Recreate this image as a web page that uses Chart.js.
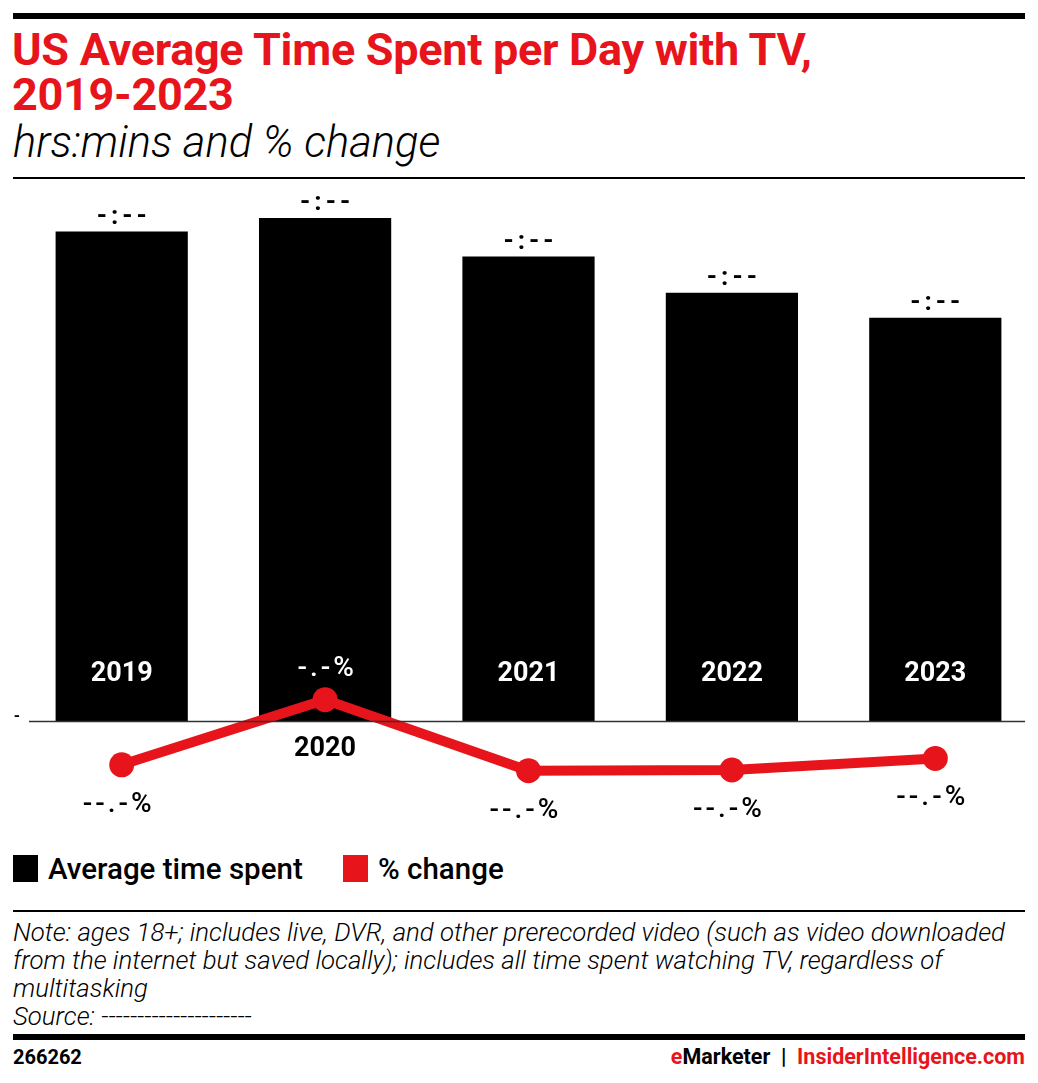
<!DOCTYPE html>
<html>
<head>
<meta charset="utf-8">
<script src="https://cdn.jsdelivr.net/npm/chart.js@4"></script>
<style>
  html, body { margin: 0; padding: 0; background: #fff; overflow: hidden; }
  body { width: 1038px; height: 1083px; position: relative; font-family: Roboto, 'Noto Sans', sans-serif; color: #000; }
  .abs { position: absolute; white-space: nowrap; }
  .rule { position: absolute; left: 13px; width: 1012px; background: #000; }
  #title { left: 12px; top: 27px; font-size: 45px; font-weight: 700; color: #e8141c; line-height: 45px; letter-spacing: -0.3px; }
  #subtitle { left: 13px; top: 119px; font-size: 43.5px; font-style: italic; font-weight: 300; line-height: 48px; }
  #chartWrap { position: absolute; left: 0; top: 180px; width: 1038px; height: 660px; }
  .legend { top: 851px; font-size: 29.5px; font-weight: 500; line-height: 36px; }
  .swatch { position: absolute; top: 855px; width: 25px; height: 27px; }
  #note { left: 13px; top: 918px; font-size: 25.8px; font-style: italic; font-weight: 300; line-height: 28px; }
  #foot-id { left: 13px; top: 1045px; font-size: 20px; font-weight: 700; }
  #foot-brand { right: 13px; top: 1044px; font-size: 21.5px; font-weight: 700; }
  .red { color: #e8141c; }
</style>
</head>
<body>
<div class="rule" style="top:13px;height:6px"></div>
<div id="title" class="abs">US Average Time Spent per Day with TV,<br>2019-2023</div>
<div id="subtitle" class="abs">hrs:mins and % change</div>
<div class="rule" style="top:177px;height:2px"></div>

<div id="chartWrap"><canvas id="chart" width="1038" height="660"></canvas></div>

<div class="swatch" style="left:13px;background:#000"></div>
<div class="abs legend" style="left:48px">Average time spent</div>
<div class="swatch" style="left:343px;background:#e8141c"></div>
<div class="abs legend" style="left:378px">% change</div>

<div class="rule" style="top:910px;height:2px"></div>
<div id="note" class="abs">Note: ages 18+; includes live, DVR, and other prerecorded video (such as video downloaded<br>from the internet but saved locally); includes all time spent watching TV, regardless of<br>multitasking<br>Source: ---------------------</div>
<div class="rule" style="top:1034px;height:6px"></div>
<div id="foot-id" class="abs">266262</div>
<div id="foot-brand" class="abs"><span class="red">e</span>Marketer &nbsp;|&nbsp; <span class="red">InsiderIntelligence.com</span></div>

<script>
    const RED   = '#e8141c';
    const BLACK = '#000000';

    // data (minutes per day, % change vs prior year)
    const years         = ['2019', '2020', '2021', '2022', '2023'];
    const minutesPerDay = [216, 222, 205, 189, 178];
    const pctChange     = [-6.8, 3.3, -7.7, -7.6, -5.8];
    const timeLabels    = ['-:--', '-:--', '-:--', '-:--', '-:--'];
    const pctLabels     = ['--.-%', '-.-%', '--.-%', '--.-%', '--.-%'];
    const zeroTickLabel = '-';

    const FONT = 'Roboto, "Noto Sans", sans-serif';

    const labelsPlugin = {
        id: 'labels',
        afterDatasetsDraw(chart) {
            const ctx  = chart.ctx;
            const x    = chart.scales.x;
            const yBar = chart.scales.y;
            const zero = yBar.getPixelForValue(0);
            ctx.save();
            ctx.textAlign = 'center';
            ctx.textBaseline = 'middle';

            // baseline + zero tick label
            ctx.strokeStyle = '#333';
            ctx.lineWidth = 1.5;
            ctx.beginPath();
            ctx.moveTo(29, zero + 0.5);
            ctx.lineTo(1025, zero + 0.5);
            ctx.stroke();
            ctx.fillStyle = BLACK;
            ctx.font = `700 16px ${FONT}`;
            ctx.fillText(zeroTickLabel, 17, zero - 4);

            years.forEach((yr, i) => {
                const cx = x.getPixelForValue(i);
                // value above bar
                ctx.fillStyle = BLACK;
                ctx.font = `700 26px ${FONT}`;
                ctx.letterSpacing = '4px';
                ctx.fillText(timeLabels[i], cx + 2, yBar.getPixelForValue(minutesPerDay[i]) - 14);
                ctx.letterSpacing = '0px';

                // category label: inside bar, or below the axis where the line sits above it
                ctx.font = `700 27px ${FONT}`;
                if (pctChange[i] > 0) {
                    ctx.fillStyle = BLACK;
                    ctx.fillText(yr, cx, zero + 28);
                } else {
                    ctx.fillStyle = '#ffffff';
                    ctx.fillText(yr, cx, zero - 47);
                }
            });
            ctx.restore();
        },
        afterDraw(chart) {
            const ctx  = chart.ctx;
            const x    = chart.scales.x;
            const yPct = chart.scales.y2;
            ctx.save();
            ctx.textAlign = 'center';
            ctx.textBaseline = 'middle';
            ctx.font = `500 28px ${FONT}`;
            ctx.letterSpacing = '3px';
            years.forEach((yr, i) => {
                const cx = x.getPixelForValue(i);
                const py = yPct.getPixelForValue(pctChange[i]);
                if (pctChange[i] > 0) {
                    ctx.fillStyle = '#ffffff';
                    ctx.fillText(pctLabels[i], cx + 2, py - 31);
                } else {
                    ctx.fillStyle = BLACK;
                    ctx.fillText(pctLabels[i], cx - 3, py + 40);
                }
            });
            ctx.restore();
        }
    };

    new Chart(document.getElementById('chart').getContext('2d'), {
        data: {
            labels: years,
            datasets: [
                {
                    type: 'line',
                    label: '% change',
                    data: pctChange,
                    yAxisID: 'y2',
                    order: 0,
                    borderColor: RED,
                    borderWidth: 10,
                    backgroundColor: RED,
                    pointRadius: 12.5,
                    pointBackgroundColor: RED,
                    pointBorderWidth: 0,
                    tension: 0,
                    fill: false
                },
                {
                    type: 'bar',
                    label: 'Average time spent',
                    data: minutesPerDay,
                    yAxisID: 'y',
                    order: 1,
                    backgroundColor: BLACK,
                    borderWidth: 0,
                    categoryPercentage: 1,
                    barPercentage: 0.65
                }
            ]
        },
        plugins: [labelsPlugin],
        options: {
            responsive: false,
            animation: false,
            layout: { autoPadding: false, padding: { top: 10, bottom: 40, left: 20, right: 1 } },
            plugins: {
                legend: { display: false },
                tooltip: { enabled: false }
            },
            scales: {
                x: { display: false, offset: true },
                y: { display: false, min: -34.87, max: 234.35 },
                y2: { display: false, position: 'right', min: -12.25, max: 82.33 }
            }
        }
    });
</script>
</body>
</html>
